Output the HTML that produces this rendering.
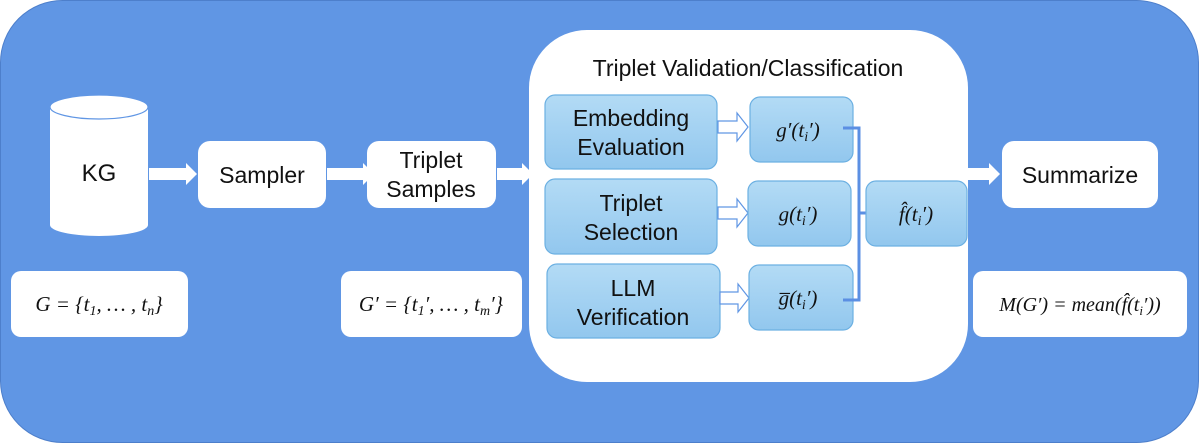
<!DOCTYPE html>
<html><head><meta charset="utf-8"><style>
html,body{margin:0;padding:0;background:#fff;}
svg{display:block;}
.t{font-family:"Liberation Sans",Arial,sans-serif;font-size:23px;fill:#111;text-anchor:middle;}
.m{font-family:"Liberation Serif",serif;font-style:italic;font-size:21px;fill:#111;text-anchor:middle;}
</style></head><body>
<svg width="1200" height="444" viewBox="0 0 1200 444" xmlns="http://www.w3.org/2000/svg">
<defs>
<linearGradient id="lb" x1="0" y1="0" x2="0" y2="1">
<stop offset="0" stop-color="#b3dbf5"/><stop offset="1" stop-color="#92c7ee"/>
</linearGradient>
</defs>
<rect x="0.5" y="0.5" width="1198" height="442" rx="62" fill="#6096e4" stroke="#4d7fcb"/>
<!-- cylinder -->
<path d="M50 107 L50 225 A49 11 0 0 0 148 225 L148 107 Z" fill="#fff"/>
<ellipse cx="99" cy="107" rx="49" ry="12" fill="#fff" stroke="#6096e4" stroke-width="1.2"/>
<text class="t" x="99" y="181" style="font-size:24px">KG</text>
<!-- arrows -->
<polygon points="149,168 186,168 186,163 197,174 186,185 186,180 149,180" fill="#fff"/>
<polygon points="327,168 363,168 363,163 374,174 363,185 363,180 327,180" fill="#fff"/>
<polygon points="497,168 522,168 522,163 533,174 522,185 522,180 497,180" fill="#fff"/>
<polygon points="968,168 989,168 989,163 1000,174 989,185 989,180 968,180" fill="#fff"/>
<!-- white boxes -->
<rect x="198" y="141" width="128" height="67" rx="12" fill="#fff"/>
<text class="t" x="262" y="183">Sampler</text>
<rect x="367" y="141" width="129" height="67" rx="12" fill="#fff"/>
<text class="t" x="431" y="168">Triplet</text>
<text class="t" x="431" y="197">Samples</text>
<rect x="1002" y="141" width="156" height="67" rx="12" fill="#fff"/>
<text class="t" x="1080" y="183">Summarize</text>
<rect x="11" y="271" width="177" height="66" rx="10" fill="#fff"/>
<text class="m" x="99" y="311">G = {t<tspan font-size="14" dy="4">1</tspan><tspan dy="-4">, … , t</tspan><tspan font-size="14" dy="4">n</tspan><tspan dy="-4">}</tspan></text>
<rect x="341" y="271" width="181" height="66" rx="10" fill="#fff"/>
<text class="m" x="431" y="311">G′ = {t<tspan font-size="14" dy="4">1</tspan><tspan dy="-4">′, … , t</tspan><tspan font-size="14" dy="4">m</tspan><tspan dy="-4">′}</tspan></text>
<rect x="973" y="271" width="214" height="66" rx="10" fill="#fff"/>
<text class="m" x="1080" y="311" style="font-size:20px">M(G′) = mean(f̂(t<tspan font-size="13" dy="4">i</tspan><tspan dy="-4">′))</tspan></text>
<!-- panel -->
<rect x="529" y="30" width="439" height="352" rx="58" fill="#fff"/>
<text class="t" x="748" y="76">Triplet Validation/Classification</text>
<!-- left light boxes -->
<rect x="545" y="95" width="172" height="74" rx="10" fill="url(#lb)" stroke="#6cb0e2" stroke-width="1.2"/>
<text class="t" x="631" y="126">Embedding</text>
<text class="t" x="631" y="155">Evaluation</text>
<rect x="545" y="179" width="172" height="75" rx="10" fill="url(#lb)" stroke="#6cb0e2" stroke-width="1.2"/>
<text class="t" x="631" y="211">Triplet</text>
<text class="t" x="631" y="240">Selection</text>
<rect x="547" y="264" width="173" height="74" rx="10" fill="url(#lb)" stroke="#6cb0e2" stroke-width="1.2"/>
<text class="t" x="633" y="296">LLM</text>
<text class="t" x="633" y="325">Verification</text>
<!-- hollow arrows -->
<g fill="#fff" stroke="#6096e4" stroke-width="1.2">
<polygon points="718,121 737,121 737,113 748,127 737,141 737,133 718,133"/>
<polygon points="718,207 737,207 737,199 748,213 737,227 737,219 718,219"/>
<polygon points="720,292 738,292 738,284 749,298 738,312 738,304 720,304"/>
</g>
<!-- g boxes -->
<rect x="750" y="97" width="103" height="65" rx="10" fill="url(#lb)" stroke="#6cb0e2" stroke-width="1.2"/>
<text class="m" x="798" y="137">g′(t<tspan font-size="14" dy="4">i</tspan><tspan dy="-4">′)</tspan></text>
<rect x="748" y="181" width="103" height="65" rx="10" fill="url(#lb)" stroke="#6cb0e2" stroke-width="1.2"/>
<text class="m" x="798" y="221">g(t<tspan font-size="14" dy="4">i</tspan><tspan dy="-4">′)</tspan></text>
<rect x="749" y="265" width="104" height="65" rx="10" fill="url(#lb)" stroke="#6cb0e2" stroke-width="1.2"/>
<text class="m" x="798" y="305">g̅(t<tspan font-size="14" dy="4">i</tspan><tspan dy="-4">′)</tspan></text>
<!-- bracket -->
<path d="M843 128 L859 128 L859 300 L843 300 M859 213 L868 213" fill="none" stroke="#5b8fe3" stroke-width="3"/>
<rect x="866" y="181" width="101" height="65" rx="10" fill="url(#lb)" stroke="#6cb0e2" stroke-width="1.2"/>
<text class="m" x="916" y="221">f̂(t<tspan font-size="14" dy="4">i</tspan><tspan dy="-4">′)</tspan></text>
</svg>
</body></html>
